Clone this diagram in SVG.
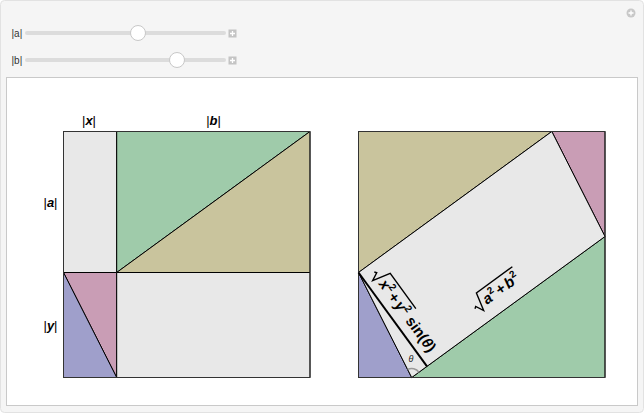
<svg xmlns="http://www.w3.org/2000/svg" width="644" height="413" viewBox="0 0 644 413">
<style>
.ui{font-family:"Liberation Sans",Arial,sans-serif;font-size:10px;fill:#333}
.lab{font-family:"Liberation Sans",Arial,sans-serif;font-size:13px;fill:#000}
.v{font-weight:bold;font-style:italic}
.m{font-family:"Liberation Sans",Arial,sans-serif;font-size:15px;font-weight:bold;fill:#000}
.sup{font-size:10px}
.e{stroke:#000;stroke-width:1;stroke-linejoin:round}
.lg{fill:#e8e8e8}
.gr{fill:#9fcbaa}
.tn{fill:#c9c49d}
.pk{fill:#c99db5}
.pu{fill:#9f9fcb}
.rad{fill:none;stroke:#000;stroke-width:1.4;stroke-linejoin:miter}
.track{stroke:#dcdcdc;stroke-width:4;stroke-linecap:round}
.knob{fill:#fff;stroke:#c8c8c8;stroke-width:1}
.btn{fill:#c4c4c4}
</style>
<rect x="0.5" y="0.5" width="643" height="412" rx="4" fill="#f5f5f5" stroke="#e2e2e2"/>
<g id="icon-top"><circle cx="631" cy="13" r="4.5" fill="#c8c8c8"/><path d="M628.5 13h5M631 10.5v5" stroke="#fff" stroke-width="1.3"/></g>
<g id="slider-a">
<text class="ui" x="11.5" y="36.5">|a|</text>
<line class="track" x1="27" y1="33" x2="224" y2="33"/>
<circle class="knob" cx="138" cy="33" r="7.5"/>
<rect class="btn" x="228.5" y="29.5" width="8" height="8"/><path d="M230 33.5h5M232.5 31v5" stroke="#fff" stroke-width="1.3"/>
</g>
<g id="slider-b">
<text class="ui" x="11.5" y="63.5">|b|</text>
<line class="track" x1="27" y1="60" x2="224" y2="60"/>
<circle class="knob" cx="177" cy="60" r="7.5"/>
<rect class="btn" x="228.5" y="56.5" width="8" height="8"/><path d="M230 60.5h5M232.5 58v5" stroke="#fff" stroke-width="1.3"/>
</g>
<rect x="6.5" y="77.5" width="631" height="328" fill="#fff" stroke="#c9c9c9"/>

<g id="left-square">
<rect id="L-xa" class="lg e" x="63.5" y="131.5" width="53.2" height="141"/>
<polygon id="L-green" class="gr e" points="116.7,131.5 310,131.5 116.7,272.5"/>
<polygon id="L-tan" class="tn e" points="310,131.5 310,272.5 116.7,272.5"/>
<polygon id="L-pink" class="pk e" points="63.5,272.5 116.7,272.5 116.7,377.5"/>
<polygon id="L-purple" class="pu e" points="63.5,272.5 116.7,377.5 63.5,377.5"/>
<rect id="L-by" class="lg e" x="116.7" y="272.5" width="193.3" height="105"/>
<rect x="63.5" y="131.5" width="246.5" height="246" fill="none" stroke="#333" stroke-width="1"/>
</g>
<g id="left-labels">
<text class="lab" x="89" y="124.5" text-anchor="middle">|<tspan class="v">x</tspan>|</text>
<text class="lab" x="213.5" y="124.5" text-anchor="middle">|<tspan class="v">b</tspan>|</text>
<text class="lab" x="50.5" y="206.5" text-anchor="middle">|<tspan class="v">a</tspan>|</text>
<text class="lab" x="50.5" y="329.5" text-anchor="middle">|<tspan class="v">y</tspan>|</text>
</g>

<g id="right-square">
<polygon id="R-tan" class="tn e" points="358.5,131.5 551.8,131.5 358.5,272.5"/>
<polygon id="R-pink" class="pk e" points="551.8,131.5 605,131.5 605,236.5"/>
<polygon id="R-green" class="gr e" points="605,236.5 605,377.5 411.7,377.5"/>
<polygon id="R-purple" class="pu e" points="358.5,272.5 411.7,377.5 358.5,377.5"/>
<polygon id="R-par" class="lg e" points="358.5,272.5 551.8,131.5 605,236.5 411.7,377.5"/>
<rect x="358.5" y="131.5" width="246.5" height="246" fill="none" stroke="#333" stroke-width="1"/>
</g>
<g id="connectors">
<line x1="358.5" y1="272.5" x2="427" y2="366.4" stroke="#000" stroke-width="2"/>
<path d="M407.6 369.5 A9 9 0 0 1 419 372.2" fill="none" stroke="#999" stroke-width="1.5"/>
</g>
<g id="theta-label"><text x="411" y="362" text-anchor="middle" font-family="'Liberation Sans',Arial,sans-serif" font-size="9" font-style="italic" fill="#222">θ</text></g>

<g id="label-ab" transform="translate(496,293.5) rotate(-36.1)">
<polyline class="rad" points="-26,0 -24,-1.5 -20,6.5 -15.5,-12 29,-12"/>
<text class="m" x="-14" y="4"><tspan class="v">a</tspan><tspan class="sup" dy="-6.5">2</tspan><tspan dx="2" dy="6.5">+</tspan><tspan class="v" dx="2">b</tspan><tspan class="sup" dy="-6.5">2</tspan></text>
</g>
<g id="label-xy" transform="translate(403.2,311.6) rotate(53.9)">
<polyline class="rad" points="-49,0 -47,-1.5 -43,6.5 -38.5,-12 5,-12"/>
<text class="m" x="-37" y="4"><tspan class="v">x</tspan><tspan class="sup" dy="-6.5">2</tspan><tspan dx="2" dy="6.5">+</tspan><tspan class="v" dx="2">y</tspan><tspan class="sup" dy="-6.5">2</tspan><tspan dx="5" dy="6.5">sin(</tspan><tspan class="v">θ</tspan>)</text>
</g>
</svg>
